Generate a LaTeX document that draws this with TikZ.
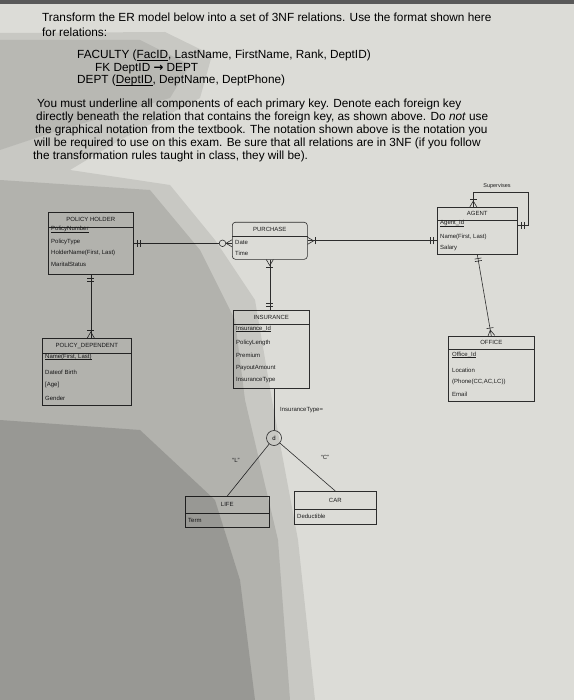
\documentclass[tikz,border=0pt]{standalone}
\usepackage{fontspec}
\setmainfont{Liberation Sans}
\newfontfamily\arrowfont{DejaVu Sans}
\usetikzlibrary{decorations.markings}
\definecolor{paper}{RGB}{220,220,215}
\definecolor{ink}{RGB}{30,30,30}
\definecolor{lineink}{RGB}{45,45,45}
\newcommand\keyul[1]{\underline{\smash{#1}}}
\tikzset{
  mk/.style={draw=lineink, line width=0.6pt},
  conn/.style={draw=lineink, line width=0.6pt},
  entity/.style={draw=lineink, line width=0.6pt, inner sep=0pt, anchor=north west},
  etitle/.style={font=\fontsize{6}{7}\selectfont, inner sep=0pt, text=ink},
  attr/.style={font=\fontsize{6}{7}\selectfont, inner sep=0pt, anchor=west, text=ink},
  body/.style={font=\fontsize{11.8}{14}\selectfont, inner sep=0pt, anchor=base west, text=black},
  oneone start/.style={postaction={decorate, decoration={markings,
      mark=at position 4pt with {\draw[mk] (0,-3.5pt) -- (0,3.5pt);},
      mark=at position 6.5pt with {\draw[mk] (0,-3.5pt) -- (0,3.5pt);}}}},
  oneone end/.style={postaction={decorate, decoration={markings,
      mark=at position -4pt with {\draw[mk] (0,-3.5pt) -- (0,3.5pt);},
      mark=at position -6.5pt with {\draw[mk] (0,-3.5pt) -- (0,3.5pt);}}}},
  crowbar start/.style={postaction={decorate, decoration={markings,
      mark=at position 0pt with {\draw[mk] (0,3.5pt) -- (6pt,0) -- (0,-3.5pt);},
      mark=at position 8pt with {\draw[mk] (0,-3.5pt) -- (0,3.5pt);}}}},
  crowbar end/.style={postaction={decorate, decoration={markings,
      mark=at position -0.01pt with {\draw[mk] (0,3.5pt) -- (-6pt,0) -- (0,-3.5pt);},
      mark=at position -8pt with {\draw[mk] (0,-3.5pt) -- (0,3.5pt);}}}},
  zerocrow end/.style={postaction={decorate, decoration={markings,
      mark=at position -0.01pt with {\draw[mk] (0,3.5pt) -- (-6pt,0) -- (0,-3.5pt);},
      mark=at position -9.5pt with {\draw[mk, fill=paper] (0,0) circle (3.3pt);}}}},
}
\begin{document}
\begin{tikzpicture}[x=1pt,y=-1pt]
\useasboundingbox (0,0) rectangle (574,700);
\fill[paper] (0,0) rectangle (574,700);
\fill[black!65] (0,0) rectangle (574,4);

% ---------- text ----------
\node[body] (t1) at (42,22) {Transform the ER model below into a set of 3NF relations. Use the format shown here};
\node[body] (t2) at (42,37) {for relations:};
\node[body] (t3) at (77,59) {FACULTY (\keyul{FacID}, LastName, FirstName, Rank, DeptID)};
\node[body] (t4) at (95,72) {FK DeptID {\arrowfont\bfseries →} DEPT};
\node[body] (t5) at (77,84) {DEPT (\keyul{DeptID}, DeptName, DeptPhone)};
\node[body] (p1) at (37,108) {You must underline all components of each primary key. Denote each foreign key};
\node[body] (p2) at (36,121) {directly beneath the relation that contains the foreign key, as shown above. Do \textit{not} use};
\node[body] (p3) at (35,134) {the graphical notation from the textbook. The notation shown above is the notation you};
\node[body] (p4) at (34,147) {will be required to use on this exam. Be sure that all relations are in 3NF (if you follow};
\node[body] (p5) at (33,160) {the transformation rules taught in class, they will be).};

% ---------- POLICY HOLDER ----------
\node[entity, minimum width=85pt, minimum height=62pt] (ph) at (48,212) {};
\draw[conn] ([yshift=-15pt]ph.north west) -- ([yshift=-15pt]ph.north east);
\node[etitle] (phT) at ([yshift=-7.5pt]ph.north) {POLICY HOLDER};
\node[attr] (ph1) at (51,232) {\keyul{PolicyNumber}};
\node[attr] (ph2) at (51,242) {PolicyType};
\node[attr] (ph3) at (51,253) {HolderName(First, Last)};
\node[attr] (ph4) at (51,264) {MaritalStatus};

% ---------- POLICY DEPENDENT ----------
\node[entity, minimum width=89pt, minimum height=67pt] (pd) at (42,338) {};
\draw[conn] ([yshift=-15pt]pd.north west) -- ([yshift=-15pt]pd.north east);
\node[etitle] (pdT) at ([yshift=-8pt]pd.north) {POLICY\_DEPENDENT};
\node[attr] (pd1) at (45,359) {\keyul{Name(First, Last)}};
\node[attr] (pd2) at (45,372) {Dateof Birth};
\node[attr] (pd3) at (45,385) {[Age]};
\node[attr] (pd4) at (45,398) {Gender};

% ---------- PURCHASE ----------
\node[entity, rounded corners=3pt, minimum width=75pt, minimum height=37pt] (pur) at (232,222) {};
\draw[conn] ([yshift=-14pt]pur.north west) -- ([yshift=-14pt]pur.north east);
\node[etitle] (purT) at ([yshift=-7pt]pur.north) {PURCHASE};
\node[attr] (pur1) at (235,242) {Date};
\node[attr] (pur2) at (235,253) {Time};

% ---------- AGENT ----------
\node[entity, minimum width=80pt, minimum height=47pt] (agent) at (437,207) {};
\draw[conn] ([yshift=-13pt]agent.north west) -- ([yshift=-13pt]agent.north east);
\node[etitle] (agT) at ([yshift=-6.5pt]agent.north) {AGENT};
\node[attr] (ag1) at (440,226) {\keyul{Agent\_Id}};
\node[attr] (ag2) at (440,237) {Name(First, Last)};
\node[attr] (ag3) at (440,248) {Salary};

% ---------- OFFICE ----------
\node[entity, minimum width=86pt, minimum height=65pt] (office) at (448,336) {};
\draw[conn] ([yshift=-13pt]office.north west) -- ([yshift=-13pt]office.north east);
\node[etitle] (ofT) at ([yshift=-6.5pt]office.north) {OFFICE};
\node[attr] (of1) at (452,357) {\keyul{Office\_Id}};
\node[attr] (of2) at (452,370) {Location};
\node[attr] (of3) at (452,382) {(Phone(CC,AC,LC))};
\node[attr] (of4) at (452,394) {Email};

% ---------- INSURANCE ----------
\node[entity, minimum width=76pt, minimum height=78pt] (ins) at (233,310) {};
\draw[conn] ([yshift=-14pt]ins.north west) -- ([yshift=-14pt]ins.north east);
\node[etitle] (insT) at ([yshift=-7pt]ins.north) {INSURANCE};
\node[attr] (in1) at (236,331) {\keyul{Insurance\_Id}};
\node[attr] (in2) at (236,343) {PolicyLength};
\node[attr] (in3) at (236,355) {Premium};
\node[attr] (in4) at (236,368) {PayoutAmount};
\node[attr] (in5) at (236,380) {InsuranceType};

% ---------- LIFE / CAR ----------
\node[entity, minimum width=84pt, minimum height=31pt] (life) at (185,496) {};
\draw[conn] ([yshift=-17pt]life.north west) -- ([yshift=-17pt]life.north east);
\node[etitle] (lifeT) at ([yshift=-8.5pt]life.north) {LIFE};
\node[attr] (lf1) at (188,520) {Term};

\node[entity, minimum width=82pt, minimum height=33pt] (car) at (294,491) {};
\draw[conn] ([yshift=-18pt]car.north west) -- ([yshift=-18pt]car.north east);
\node[etitle] (carT) at ([yshift=-9pt]car.north) {CAR};
\node[attr] (cr1) at (297,516) {Deductible};

% ---------- disjoint circle ----------
\node[draw=lineink, line width=0.6pt, circle, minimum size=15pt, inner sep=0pt,
      font=\fontsize{6}{7}\selectfont] (dc) at (274,438) {d};
\node[attr] (itype) at (280,410) {InsuranceType=};
\node[etitle] (lblL) at (236,460) {``L''};
\node[etitle] (lblC) at (325,457) {``C''};
\node[etitle, font=\fontsize{5.5}{6}\selectfont] (sup) at (497,186) {Supervises};

% ---------- connectors ----------
\draw[conn, oneone start, zerocrow end] (ph.east) -- (ph.east -| pur.west);
\draw[conn, crowbar start, oneone end] (pur.east) -- (pur.east -| agent.west);
\draw[conn, crowbar start, oneone end] (pur.south) -- (pur.south |- ins.north);
\draw[conn, oneone start, crowbar end] (ph.south) -- (ph.south |- pd.north);
\draw[conn, oneone start, crowbar end] (agent.south) -- (office.north);
\coordinate (s1) at (528,192);
\draw[conn, crowbar start, oneone end] ([xshift=-4pt]agent.north) |- (s1) |- ([yshift=5.5pt]agent.east);
\draw[conn] (dc.north |- ins.south) -- (dc);
\draw[conn] (dc) -- (life.north);
\draw[conn] (dc) -- (car.north);

% ---------- photo shadow ----------
\fill[black, opacity=0.09] (0,33) -- (165,32) -- (212,55) -- (200,98) -- (120,140) -- (70,170) -- (170,185) -- (215,240) -- (255,300) -- (272,400) -- (298,540) -- (315,700) -- (0,700) -- cycle;
\fill[black, opacity=0.08] (0,40) -- (140,40) -- (190,65) -- (170,98) -- (60,130) -- (0,150) -- cycle;
\fill[black, opacity=0.11] (0,180) -- (150,190) -- (200,250) -- (235,320) -- (245,400) -- (278,540) -- (290,700) -- (0,700) -- cycle;
\fill[black, opacity=0.14] (0,420) -- (140,430) -- (215,500) -- (240,580) -- (255,700) -- (0,700) -- cycle;
\end{tikzpicture}
\end{document}
